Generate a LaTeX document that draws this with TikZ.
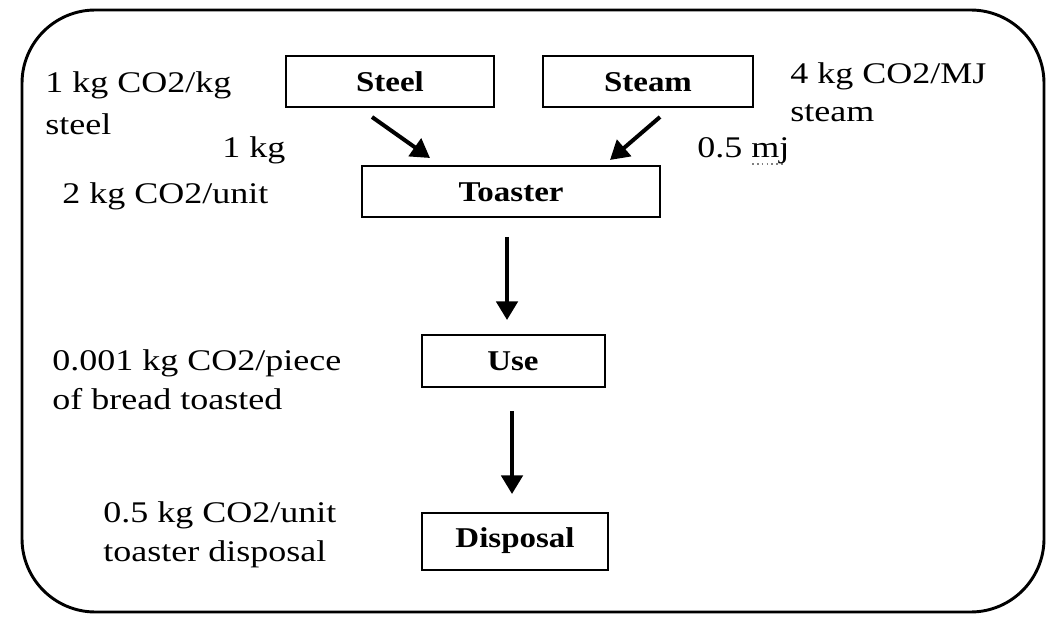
\documentclass[tikz,border=0pt]{standalone}
\usepackage{fontspec}
\setmainfont{Liberation Serif}
\usetikzlibrary{arrows.meta}
\begin{document}
\begin{tikzpicture}[x=0.75pt,y=-0.75pt,
  box/.style={draw,line width=1.5pt,inner sep=0pt},
  boxtext/.style={inner sep=0pt,xscale=1.15,transform shape,font=\fontsize{21.5}{24}\selectfont\bfseries},
  lab/.style={anchor=base west,inner sep=0pt,xscale=1.2,transform shape,font=\fontsize{22.5}{25}\selectfont},
  arr/.style={line width=3pt,-{Triangle[length=14pt,width=16pt]}}]
\useasboundingbox (0,0) rectangle (1052,623);
\draw[line width=2.2pt,rounded corners=55pt] (22,10) rectangle (1044,612);
\node[box,minimum width=208*0.75pt,minimum height=51*0.75pt] (steel) at (390,82) {};
\node[box,minimum width=210*0.75pt,minimum height=51*0.75pt] (steam) at (648,82) {};
\node[box,minimum width=298*0.75pt,minimum height=51*0.75pt] (toaster) at (511,192) {};
\node[box,minimum width=183*0.75pt,minimum height=51*0.75pt] (use) at (513,361) {};
\node[box,minimum width=186*0.75pt,minimum height=57*0.75pt] (disp) at (515,541) {};
\node[boxtext] (steelt) at (steel) {Steel};
\node[boxtext] (steamt) at (steam) {Steam};
\node[boxtext] (toastert) at (toaster) {Toaster};
\node[boxtext] (uset) at (use) {Use};
\node[boxtext] (dispt) at (disp) {Disposal};
\coordinate (a1) at (372,117); \coordinate (b1) at (430,158);
\coordinate (a2) at (660,117); \coordinate (b2) at (610,160);
\coordinate (a3) at (507,237); \coordinate (b3) at (507,320);
\coordinate (a4) at (512,411); \coordinate (b4) at (512,494);
\draw[arr] (a1) -- (b1);
\draw[arr] (a2) -- (b2);
\draw[arr] (a3) -- (b3);
\draw[arr] (a4) -- (b4);
\node[lab] (t1) at (45,93) {1 kg CO2/kg};
\node[lab] (t2) at (45,135) {steel};
\node[lab] (t3) at (222,158) {1 kg};
\node[lab] (t4) at (62,204) {2 kg CO2/unit};
\node[lab] (t5) at (790,84) {4 kg CO2/MJ};
\node[lab] (t6) at (790,122) {steam};
\node[lab] (t7) at (697,158) {0.5 \rlap{\raisebox{-5pt}{\tikz\draw[dotted,gray,line width=1pt](0,0)--(20pt,0);}}mj};
\node[lab] (t8) at (52,370) {0.001 kg CO2/piece};
\node[lab] (t9) at (52,409) {of bread toasted};
\node[lab] (t10) at (103,522) {0.5 kg CO2/unit};
\node[lab] (t11) at (103,561) {toaster disposal};
\end{tikzpicture}
\end{document}
